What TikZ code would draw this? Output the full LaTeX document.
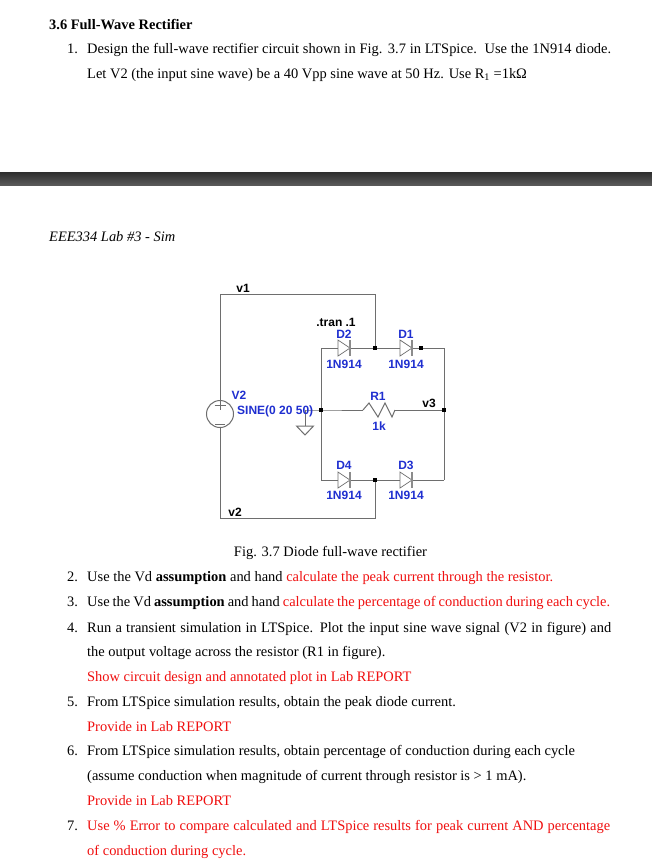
\documentclass[tikz,border=0pt]{standalone}
\usepackage{fontspec}
\setmainfont{Liberation Serif}
\setsansfont{Liberation Sans}
\usetikzlibrary{positioning,calc}
\definecolor{wirecol}{HTML}{6E6E6E}
\definecolor{partcol}{HTML}{1F2FD0}
\definecolor{redtxt}{HTML}{F01010}
\tikzset{
	txt/.style={anchor=base west,inner sep=0pt,font=\fontsize{14.45}{16}\selectfont},
	num/.style={txt},
	red/.style={txt,text=redtxt},
	part/.style={inner sep=0pt,text=partcol,font=\fontsize{12}{14}\sffamily\bfseries},
	net/.style={inner sep=0pt,text=black,font=\fontsize{12}{14}\sffamily\bfseries},
	wire/.style={draw=wirecol,line width=1pt}
}
\begin{document}
\begin{tikzpicture}[x=1pt,y=-1pt]
\useasboundingbox[fill=white] (0,0) rectangle (652,868);

\node[txt,font=\fontsize{14.45}{16}\selectfont\bfseries] (title) at (49,29) {3.6 Full-Wave Rectifier};
\node[num] (n1) at (67,53) {1.};
\node[txt] (l1) at (87,53) {\makebox[524pt][s]{Design the full-wave rectifier circuit shown in Fig. 3.7 in LTSpice.\ \ Use the 1N914 diode.}};
\node[txt] (l1b) at (87,78) {Let V2 (the input sine wave) be a 40 Vpp sine wave at 50 Hz. Use R\textsubscript{1} =1kΩ};

\shade[top color=black!82,bottom color=black!65] (0,172) rectangle (652,185);
\node[txt,font=\fontsize{14.45}{16}\selectfont\itshape] (lab) at (49,241) {EEE334 Lab \#3 - Sim};

\coordinate (tl) at (220,294);
\coordinate (tr) at (375,294);
\coordinate (bl) at (220,518);
\coordinate (br) at (375,518);
\coordinate (a) at (375,348);
\coordinate (b) at (421,348);
\coordinate (c) at (321,410);
\coordinate (d) at (444,410);
\coordinate (e) at (375,480);
\coordinate (f) at (321,348);
\coordinate (g) at (444,348);
\coordinate (h) at (321,480);
\coordinate (i) at (444,480);
\coordinate (V2) at (220,414);
\coordinate (gnd) at (305,410);
\coordinate (gnd1) at (305,426);
\coordinate (D2) at (344,348);
\coordinate (D1) at (406,348);
\coordinate (D4) at (344,480);
\coordinate (D3) at (406,480);
\coordinate (r1) at (363,410);
\coordinate (r2) at (395,410);

\draw[wire](V2)--(tl)--(tr)--(a);
\draw[wire](V2)--(bl)--(br)--(e);
\draw[wire](f)--(h);
\draw[wire](g)--(i);
\draw[wire](f)--(g);
\draw[wire](h)--(i);
\draw[wire](gnd)--(c)--(r1);
\draw[wire](r2)--(d);
\draw[wire](gnd)--(gnd1);
\draw[wire](r1)--++(6,-7)--++(9,14)--++(7,-14)--++(7,14)--(r2);
\draw[wire,fill=white](gnd1)--++(-8.5,0)--++(8.5,9)--++(8.5,-9)--cycle;

\draw[wire,fill=white](V2)circle[radius=13.5];
\draw[wire,line width=0.7pt](214.5,405)--(225.5,405);
\draw[wire,line width=0.7pt](220,400)--(220,410);
\draw[wire,line width=0.7pt](215,424)--(225,424);

\foreach \x in {D2,D1,D4,D3}{
	\draw[wire,line width=0.7pt,fill=white]($(\x)+(-6,-8)$)--($(\x)+(6,0)$)--($(\x)+(-6,8)$)--cycle;
	\draw[draw=black!45,line width=1.2pt]($(\x)+(6,-8)$)--($(\x)+(6,8)$);
}
\foreach \x in {a,b,c,d,e}
	\fill(\x)+(-2,-2)rectangle+(2,2);

\node[net] (tran) at (336,322) {.tran .1};
\node[net] (v1) at (243,288) {v1};
\node[net] (v2) at (235,512) {v2};
\node[net] (v3) at (429,403) {v3};
\node[part] (D2t) at (344,334) {D2};
\node[part] (D1t) at (406,334) {D1};
\node[part] (D4t) at (344,465) {D4};
\node[part] (D3t) at (406,465) {D3};
\foreach \n/\x/\y in {m2/344/364,m1/406/364,m4/344/495,m3/406/495}
	\node[part] (\n) at (\x,\y) {1N914};
\node[part] (V2t) at (239,395) {V2};
\node[part,anchor=west] (sine) at (237,411) {SINE(0 20 50)};
\node[part] (R1t) at (378,396) {R1};
\node[part] (R1v) at (379,426) {1k};

\node[txt,anchor=base] (cap) at (330.5,556) {Fig. 3.7 Diode full-wave rectifier};
\node[num] (n2) at (67,581) {2.};
\node[txt] (l2) at (87,581) {Use the Vd \textbf{assumption} and hand \textcolor{redtxt}{calculate the peak current through the resistor.}};
\node[num] (n3) at (67,606) {3.};
\node[txt] (l3) at (87,606) {\makebox[523pt][s]{Use the Vd \textbf{assumption} and hand \textcolor{redtxt}{calculate the percentage of conduction during each cycle.}}};
\node[num] (n4) at (67,632) {4.};
\node[txt] (l4) at (87,632) {\makebox[524pt][s]{Run a transient simulation in LTSpice. Plot the input sine wave signal (V2 in figure) and}};
\node[txt] (l4b) at (87,656) {the output voltage across the resistor (R1 in figure).};
\node[red] (l4c) at (87,681) {Show circuit design and annotated plot in Lab REPORT};
\node[num] (n5) at (67,706) {5.};
\node[txt] (l5) at (87,706) {From LTSpice simulation results, obtain the peak diode current.};
\node[red] (l5b) at (87,731) {Provide in Lab REPORT};
\node[num] (n6) at (67,755) {6.};
\node[txt] (l6) at (87,755) {From LTSpice simulation results, obtain percentage of conduction during each cycle};
\node[txt] (l6b) at (87,780) {(assume conduction when magnitude of current through resistor is > 1 mA).};
\node[red] (l6c) at (87,805) {Provide in Lab REPORT};
\node[num] (n7) at (67,830) {7.};
\node[red] (l7) at (87,830) {\makebox[523pt][s]{Use \% Error to compare calculated and LTSpice results for peak current AND percentage}};
\node[red] (l7b) at (87,855) {of conduction during cycle.};
\end{tikzpicture}
\end{document}
